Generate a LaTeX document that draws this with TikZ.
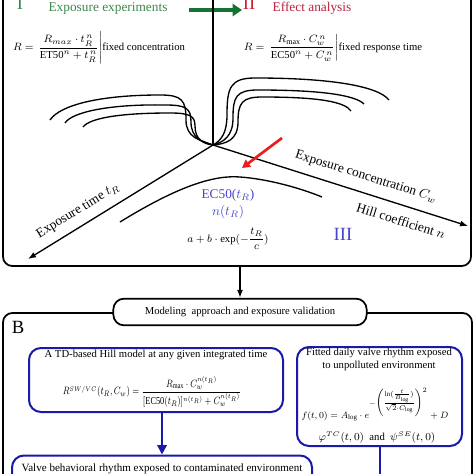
\documentclass[tikz,border=0pt]{standalone}
\usepackage{amsmath}
\usepackage{graphicx}
\usepackage{fontspec}
\setmainfont{Liberation Serif}
\usetikzlibrary{positioning}
\usetikzlibrary{arrows.meta}

\definecolor{expgreen}{RGB}{60,135,75}
\definecolor{arrowgreen}{RGB}{20,115,50}
\definecolor{effred}{RGB}{185,35,60}
\definecolor{numred}{RGB}{205,30,45}
\definecolor{textblue}{RGB}{70,70,205}
\definecolor{boxblue}{RGB}{25,25,170}
\definecolor{arrowred}{RGB}{235,30,30}

\newcommand{\supsm}[1]{{\scriptscriptstyle #1}}

\begin{document}
\begin{tikzpicture}[x=0.75pt, y=-0.75pt,
    panel/.style={draw=black, line width=1.3pt, rounded corners=7pt, inner sep=0pt},
    fan/.style={draw=black, line width=1pt},
    axis/.style={draw=black, line width=1pt, -{Latex[length=6pt,width=4.5pt]}},
    bluebox/.style={draw=boxblue, line width=1.5pt, rounded corners=9pt, fill=white, inner sep=0pt},
    small/.style={font=\fontsize{8}{9.8}\selectfont},
    head/.style={font=\fontsize{10}{12}\selectfont},
    numeral/.style={font=\fontsize{14}{14}\selectfont}]

    \useasboundingbox (0,0) rectangle (474,474);
    \clip (0,0) rectangle (474,474);

    % panel A
    \node[panel, minimum width=351pt, minimum height=214.5pt] (panelA) at (237,123) {};
    \node[numeral, text=expgreen] (numI) at (20,3) {I};
    \node[head, text=expgreen] (exptitle) at (108,9) {Exposure experiments};
    \node[numeral, text=numred] (numII) at (249,3) {II};
    \node[head, text=effred] (efftitle) at (312,8) {Effect analysis};
    \coordinate (greenstart) at (189,10);
    \coordinate (greenend) at (242,10);
    \draw [arrowgreen, line width=2.6pt, -{Triangle[length=7pt,width=9pt]}] (greenstart) -- (greenend);

    \node[small] (etfifty) at (99,48) {$R=\left.\dfrac{R_{max}\cdot t_R^{\,n}}{\mathrm{ET50}^n+t_R^{\,n}}\right|$fixed concentration};
    \node[small] (ecfifty) at (333,48) {$R=\left.\dfrac{R_{\max}\cdot C_w^{\,n}}{\mathrm{EC50}^n+C_w^{\,n}}\right|$fixed response time};

    % fan of curves
    \coordinate (apex) at (213,145);
    \coordinate (vtop) at (213,-5);
    \draw [fan] (vtop) -- (apex);
    \draw [fan] (apex) .. controls (200,140) and (186,138) .. (186,120)
        .. controls (186,100) and (182,95) .. (160,95) .. controls (100,95) and (60,105) .. (50,120);
    \draw [fan] (apex) .. controls (202,142) and (191,138) .. (191,122)
        .. controls (191,108) and (186,105) .. (165,105) .. controls (110,104) and (72,112) .. (65,123);
    \draw [fan] (apex) .. controls (204,144) and (195,140) .. (195,126)
        .. controls (195,116) and (190,113) .. (170,113) .. controls (120,113) and (90,118) .. (83,127);
    \draw [fan] (apex) .. controls (222,140) and (227,132) .. (227,115)
        .. controls (227,88) and (230,78) .. (255,78) .. controls (330,78) and (378,86) .. (389,100);
    \draw [fan] (apex) .. controls (224,142) and (233,136) .. (233,118)
        .. controls (233,97) and (236,90) .. (258,90) .. controls (320,90) and (355,95) .. (364,104);
    \draw [fan] (apex) .. controls (226,144) and (238,140) .. (238,122)
        .. controls (238,103) and (242,97) .. (262,97) .. controls (320,97) and (345,102) .. (351,111);

    % axes
    \coordinate (tR) at (28,259);
    \coordinate (Cw) at (468,226);
    \draw [axis] (apex) -- (tR);
    \draw [axis] (apex) -- (Cw);
    \node[head, rotate=31.6] (tRlabel) at (78,211) {Exposure time $t_R$};
    \node[head, rotate=-17.6] (Cwlabel) at (366,177) {Exposure concentration $C_w$};
    \node[head, rotate=-17.6] (nlabel) at (401,221) {Hill coefficient $n$};

    \coordinate (redstart) at (282,138);
    \coordinate (redend) at (242,168);
    \draw [arrowred, line width=2pt, -{Triangle[length=6pt,width=6.5pt]}] (redstart) -- (redend);
    \draw [fan] (120,222) .. controls (180,185) and (215,175) .. (240,177) .. controls (268,179) and (300,188) .. (322,197);
    \node[head, text=textblue] (ectR) at (228,195) {EC50($t_R$)};
    \node[head, text=textblue] (ntR) at (228,212) {$n(t_R)$};
    \node[small] (expfit) at (228,239) {$a+b\cdot\exp(-\dfrac{t_R}{c})$};
    \node[numeral, text=textblue] (numIII) at (343,234) {III};

    % panel B
    \node[panel, minimum width=351.75pt, minimum height=155.25pt] (panelB) at (237.5,416.5) {};
    \node[panel, fill=white, rounded corners=8pt, minimum width=190pt, minimum height=20pt, small] (modbox) at (240,312) {Modeling\ \ approach and exposure validation};
    \draw [axis] (panelA.south -| modbox.north) -- (modbox.north);
    \node[numeral] (numB) at (18,327) {B};

    \node[bluebox, minimum width=190.5pt, minimum height=48pt] (hillbox) at (156,380) {};
    \node[small] (hilltitle) at (156,355) {A TD-based Hill model at any given integrated time};
    \node[small] (hillmodel) at (152,392) {\scalebox{0.78}[1]{$R^{\supsm{SW/VC}}(t_R,C_w)=\dfrac{R_{\max}\cdot C_w^{\supsm{n(t_R)}}}{[\mathrm{EC50}(t_R)]^{\supsm{n(t_R)}}+C_w^{\supsm{n(t_R)}}}$}};

    \node[bluebox, minimum width=123.75pt, minimum height=74.25pt] (fitbox) at (379.5,396.5) {};
    \node[small, align=center] (fittitle) at (379,359) {Fitted daily valve rhythm exposed\\to unpolluted environment};
    \node[small, anchor=base] (fitmodel) at (375,418) {\resizebox{110pt}{!}{$f(t,0)=A_{\log}\cdot e^{-{\textstyle\left(\frac{\ln(\frac{t}{B_{\log}})}{\sqrt{2}\cdot C_{\log}}\right)^{2}}}+D$}};
    \node[small, anchor=base] (phipsi) at (377,440) {$\varphi^{\supsm{TC}}(t,0)$\ \ and\ \ $\psi^{\supsm{SE}}(t,0)$};

    \node[bluebox, minimum width=225pt, minimum height=48pt] (valvebox) at (162,487.5) {};
    \node[small, font=\fontsize{8.3}{10}\selectfont] (valvetitle) at (162,469) {Valve behavioral rhythm exposed to contaminated environment};
    \draw [boxblue, line width=1.5pt, -{Triangle[length=7pt,width=7pt]}] (hillbox.south -| valvebox.north) -- (valvebox.north);
    \coordinate (fitend) at (fitbox.south |- 0,490);
    \draw [boxblue, line width=1.5pt] (fitbox.south) -- (fitend);
  \end{tikzpicture}
\end{document}
